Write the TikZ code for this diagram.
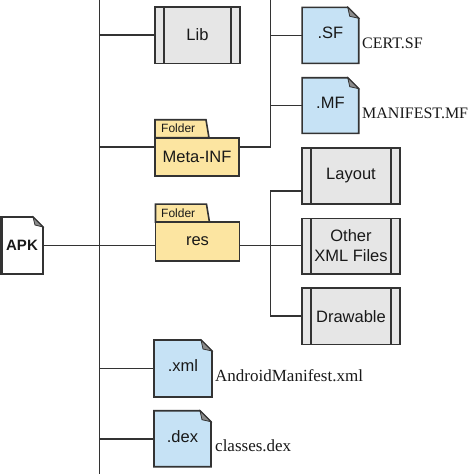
\documentclass[tikz,border=0pt]{standalone}
\usepackage{fontspec}
\setmainfont{Liberation Serif}
\newfontfamily\boxfont{Liberation Sans}
\usetikzlibrary{backgrounds,calc}
\definecolor{linec}{HTML}{333333}
\definecolor{grayf}{HTML}{E6E6E6}
\definecolor{bluef}{HTML}{C6E2F5}
\definecolor{yellowf}{HTML}{FCE5A1}
\definecolor{foldc}{HTML}{8C8C8C}
\newcommand\docshape[3]{%
  \path[draw=linec, line width=1.6pt, fill=#2, line join=miter]
    (#1.north west) -- ($(#1.north east)+(-#3,0)$) -- ($(#1.north east)+(0,#3)$)
    -- (#1.south east) -- (#1.south west) -- cycle;
  \path[draw=linec, line width=0.8pt, fill=foldc]
    ($(#1.north east)+(-#3,0)$) -- ($(#1.north east)+(-#3+2,#3-2)$) -- ($(#1.north east)+(0,#3)$) -- cycle;}
\newcommand\foldertab[1]{%
  \path[draw=linec, line width=1.6pt, fill=yellowf, line join=miter]
    (#1.north west) -- ++(0,-18) -- ++(51,0) -- ++(3,18) -- cycle;}
\newcommand\up[1]{\raisebox{2.5pt}[\height][\depth]{#1}}
\begin{document}
\begin{tikzpicture}[x=1pt,y=-1pt,
  conn/.style={draw=linec, line width=1.6pt},
  boxtext/.style={font=\boxfont\fontsize{16.5}{20}\selectfont, text=black!90, align=center, outer sep=0pt},
  procbox/.style={boxtext, draw=linec, line width=1.6pt, fill=grayf, inner sep=0pt,
    path picture={\draw[linec, line width=1.6pt]
      ([xshift=9pt]path picture bounding box.north west) -- ([xshift=9pt]path picture bounding box.south west)
      ([xshift=-9pt]path picture bounding box.north east) -- ([xshift=-9pt]path picture bounding box.south east);}},
  docbox/.style={boxtext, inner sep=0pt, minimum width=57pt, minimum height=56pt},
  folderbody/.style={boxtext, draw=linec, line width=1.6pt, fill=yellowf, inner sep=0pt,
    minimum width=84pt, minimum height=38.5pt},
  tabtext/.style={font=\boxfont\fontsize{12}{14}\selectfont, text=black!90, anchor=west, inner sep=0pt},
  lbl/.style={font=\fontsize{16}{19}\selectfont, text=black!90, anchor=west, inner sep=0pt},
  lblwide/.style={lbl, font=\fontsize{17}{20}\selectfont}
]
\useasboundingbox (0,0) rectangle (474,474);

% nodes
\node[docbox, minimum width=42pt, minimum height=57pt, font=\boxfont\bfseries\fontsize{15}{18}\selectfont] (apk) at (22,245.5) {APK};
\node[procbox, minimum width=85pt, minimum height=56.6pt] (lib) at (197.5,35) {Lib};
\node[folderbody] (meta) at (197,157) {Meta-INF};
\node[tabtext] (metatab) at (161,128.5) {Folder};
\node[folderbody, minimum height=38.7pt] (res) at (197.5,241.5) {res};
\node[tabtext] (restab) at (161,213) {Folder};
\node[docbox, minimum width=56.7pt] (sf) at (330.4,35.3) {\up{.SF}};
\node[docbox, minimum width=56.7pt, minimum height=55.6pt] (mf) at (330.4,105.5) {\up{.MF}};
\node[procbox, minimum width=98pt, minimum height=56.3pt] (layout) at (351,176) {Layout};
\node[procbox, minimum width=98pt, minimum height=55.4pt] (other) at (351,246) {Other\\XML Files};
\node[procbox, minimum width=98pt, minimum height=56.3pt] (drawable) at (351,316.2) {Drawable};
\node[docbox, minimum width=58pt, minimum height=57pt] (xml) at (183,368.5) {\up{.xml}};
\node[docbox, minimum width=57pt, minimum height=56pt] (dex) at (182.5,438.7) {\up{.dex}};

\node[lbl] (certl) at (362,43) {CERT.SF};
\node[lbl] (manil) at (362,113) {MANIFEST.MF};
\node[lblwide] (andl) at (215,376) {AndroidManifest.xml};
\node[lblwide] (dexl) at (215,446) {classes.dex};

% shapes behind
\begin{scope}[on background layer]
  \docshape{apk}{white}{10}
  \draw[linec, line width=3pt] (apk.north west) -- (apk.south west);
  \docshape{sf}{bluef}{11}
  \docshape{mf}{bluef}{11}
  \docshape{xml}{bluef}{11}
  \docshape{dex}{bluef}{11}
  \foldertab{meta}
  \foldertab{res}
\end{scope}

% connectors
\coordinate (ttop) at (99.3,0);
\coordinate (tbot) at (99.3,474);
\coordinate (mj) at (99.3,147);
\coordinate (mtop) at (270.3,0);
\coordinate (lj) at (270.3,190.7);
\begin{scope}[on background layer]
\draw[conn] (ttop) -- (tbot);
\draw[conn] (lib.west) -- (lib.west -| ttop);
\draw[conn] (mj) -- (mj -| meta.west);
\draw[conn] (mj -| meta.east) -| (mtop);
\draw[conn] (sf.west) -- (sf.west -| mtop);
\draw[conn] (mf.west) -- (mf.west -| mtop);
\draw[conn] (apk.east) -- (apk.east -| res.west);
\draw[conn] (apk.east -| res.east) -- (apk.east -| other.west);
\draw[conn] (lj -| layout.west) -- (lj) |- (drawable.west);
\draw[conn] (xml.west) -- (xml.west -| ttop);
\draw[conn] (dex.west) -- (dex.west -| ttop);
\end{scope}
\end{tikzpicture}
\end{document}
